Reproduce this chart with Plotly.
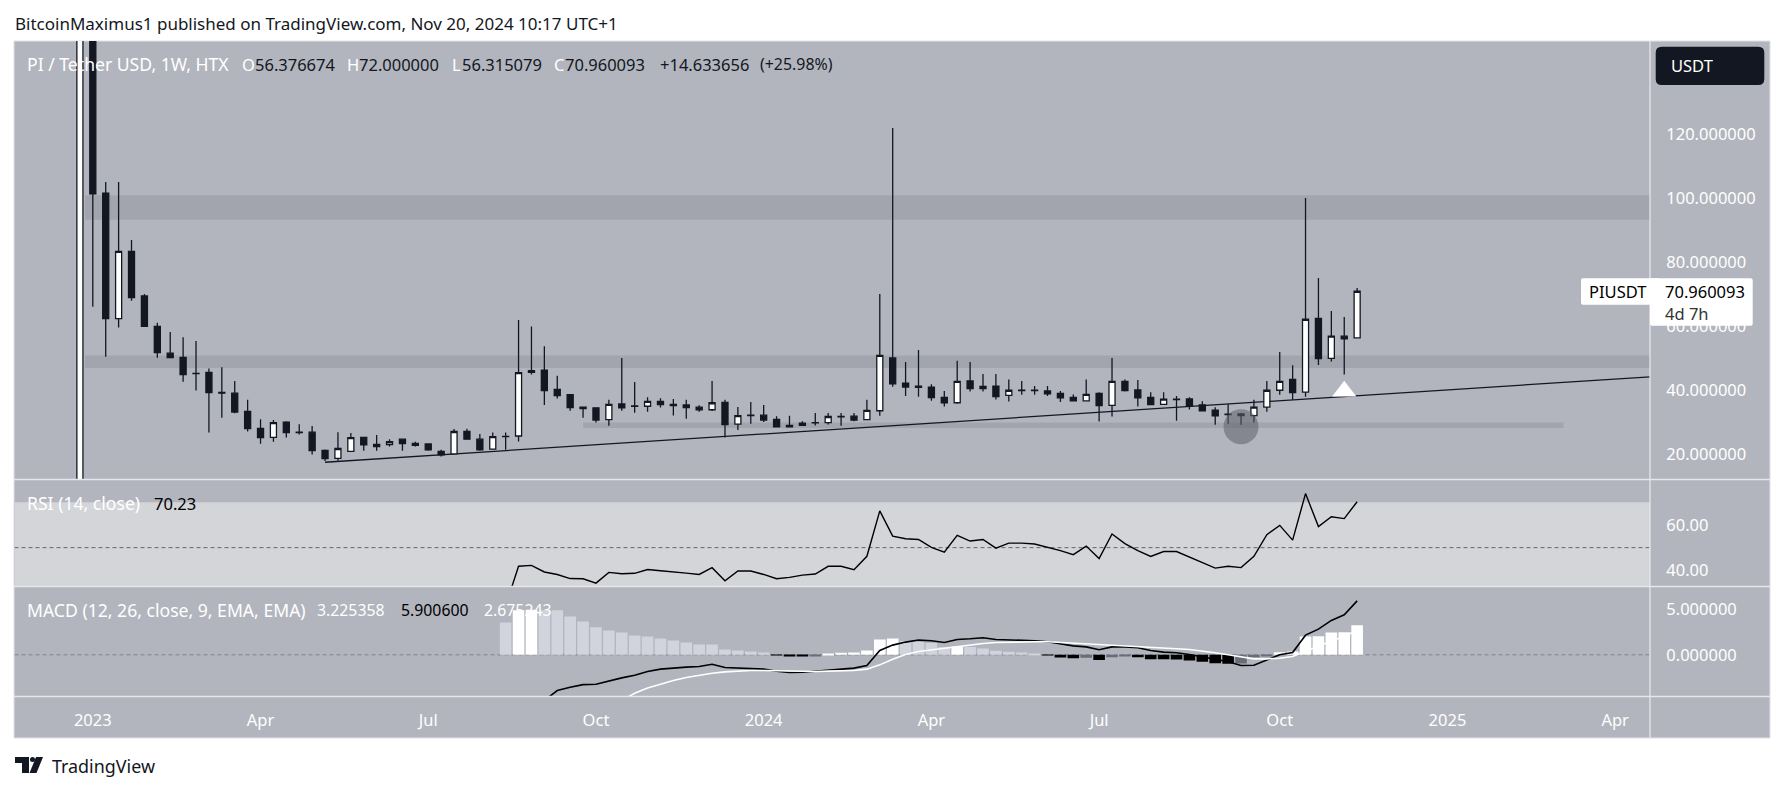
import pandas as pd
import plotly.graph_objects as go

# Weekly PI/USDT candles, first bar is the listing week
opens = [0, 170, 101.6, 62.4, 83.4, 69.5, 60.0, 51.6, 50.3, 45.3,
         45.6, 39.3, 39.1, 33.4, 28.1, 25.3, 30.0, 26.9, 26.9, 21.2,
         18.7, 20.9, 25.3, 23.1, 23.0, 24.7, 23.4, 23.2, 20.9, 20.1,
         27.1, 24.7, 21.6, 25.6, 25.7, 45.6, 46.3, 40.3, 38.6, 34.7,
         34.5, 30.8, 35.7, 35.1, 35.0, 36.5, 35.6, 35.4, 34.7, 33.9,
         36.2, 29.4, 32.2, 32.2, 30.9, 29.0, 29.0, 29.9, 29.9, 31.8,
         31.9, 30.8, 33.6, 50.1, 42.2, 41.3, 41.0, 37.8, 36.1, 42.9,
         40.5, 41.3, 38.4, 40.0, 40.0, 39.8, 39.0, 37.8, 36.7, 39.0,
         35.3, 42.8, 40.1, 37.8, 35.6, 37.2, 37.3, 35.4, 33.8, 32.5,
         32.6, 32.1, 34.7, 40.0, 43.4, 39.4, 62.5, 50.0, 56.9, 56.376674]
closes = [300, 101.4, 62.4, 83.4, 69.0, 60.0, 51.8, 50.2, 44.9, 45.2,
          39.3, 39.1, 33.2, 28.0, 25.2, 29.9, 26.8, 26.8, 21.1, 18.6,
          21.8, 25.2, 22.9, 22.4, 23.9, 23.3, 22.8, 21.4, 19.8, 27.1,
          24.7, 21.4, 25.5, 25.5, 45.5, 46.1, 39.9, 38.3, 34.6, 34.3,
          30.7, 35.6, 34.5, 35.0, 36.5, 35.5, 35.2, 34.6, 33.9, 36.1,
          29.3, 32.1, 32.1, 30.7, 28.6, 28.6, 29.7, 29.8, 31.8, 31.7,
          30.7, 33.7, 50.9, 42.0, 41.0, 40.9, 37.7, 36.1, 42.8, 40.5,
          41.2, 38.0, 40.0, 39.9, 39.9, 38.9, 37.6, 36.7, 38.7, 35.2,
          42.8, 39.9, 37.6, 35.5, 37.2, 37.1, 35.1, 33.6, 32.0, 32.4,
          32.1, 34.7, 40.0, 42.8, 39.3, 62.2, 49.9, 56.9, 56.1, 70.960093]
highs = [300, 170, 105.1, 105.1, 87.0, 70.1, 61.1, 58.2, 56.6, 55.4,
         46.8, 47.2, 42.9, 37.0, 30.9, 30.7, 30.3, 29.4, 28.8, 21.5,
         26.9, 26.6, 25.5, 26.0, 24.7, 24.7, 23.9, 23.4, 21.4, 27.9,
         28.0, 26.3, 26.8, 26.8, 62.0, 59.9, 53.8, 44.5, 38.8, 34.9,
         34.5, 37.0, 50.1, 42.6, 37.8, 37.5, 37.3, 37.0, 35.3, 42.9,
         37.0, 34.8, 36.3, 35.4, 31.9, 32.0, 30.3, 32.9, 32.9, 32.9,
         32.9, 37.0, 70.1, 122.0, 48.8, 52.6, 41.9, 39.8, 49.2, 48.8,
         45.1, 45.1, 43.4, 42.9, 41.3, 41.3, 39.8, 38.7, 43.4, 39.4,
         50.1, 43.4, 43.2, 39.4, 39.4, 38.2, 37.8, 36.6, 34.7, 35.6,
         32.9, 37.0, 42.9, 52.0, 47.8, 100.1, 75.1, 64.8, 62.9, 72.0]
lows = [0, 66.1, 50.5, 59.6, 68.0, 60.0, 50.2, 50.2, 42.7, 39.9,
        26.8, 31.4, 32.8, 27.1, 23.3, 23.9, 25.2, 26.2, 19.9, 17.9,
        18.0, 20.9, 21.1, 21.1, 22.4, 21.1, 22.4, 21.1, 19.3, 19.8,
        24.5, 21.1, 21.4, 21.4, 24.0, 44.9, 35.4, 37.4, 33.6, 31.4,
        29.9, 28.9, 33.6, 33.0, 33.3, 34.6, 32.1, 31.1, 33.3, 33.5,
        25.2, 27.6, 29.5, 30.1, 28.5, 28.5, 28.8, 29.0, 29.3, 28.9,
        30.3, 30.7, 32.0, 41.1, 38.2, 38.0, 36.7, 34.9, 35.8, 39.6,
        39.6, 37.1, 36.5, 38.6, 38.6, 38.2, 36.3, 36.5, 36.5, 30.2,
        31.8, 39.6, 34.9, 35.4, 35.4, 30.5, 34.0, 33.5, 29.2, 29.5,
        29.2, 29.9, 33.3, 38.6, 37.0, 38.0, 47.9, 49.0, 44.9, 56.315079]

# RSI(14) and MACD(12, 26, 9) start later than the candles
rsi_first_week = 33          # position in the candle list
rsi_values = [24.4, 41.8, 42.2, 39.3, 38.2, 36.4, 36.3, 34.4, 39.1, 38.5,
              38.7, 40.4, 39.8, 39.4, 38.8, 38.2, 41.2, 35.4, 39.7, 39.7,
              38.2, 36.3, 36.9, 37.9, 38.4, 41.8, 41.8, 40.3, 46.2, 66.2,
              55.1, 53.9, 53.6, 50.1, 48.0, 55.4, 52.9, 53.6, 49.8, 52.0,
              52.0, 51.6, 50.2, 48.7, 46.9, 50.7, 45.2, 56.0, 51.8, 48.7,
              46.1, 48.3, 48.3, 45.9, 43.5, 41.0, 41.8, 41.2, 46.2, 55.7,
              59.8, 53.3, 73.8, 59.3, 63.6, 62.8, 70.23]

hist_first_week = 33
hist_values = [3.54, 4.86, 4.93, 4.86, 4.86, 4.2, 3.65, 3.0, 2.67, 2.45,
               2.12, 2.01, 1.79, 1.57, 1.35, 1.13, 1.13, 0.58, 0.47, 0.36,
               0.25, -0.04, -0.1, -0.15, -0.1, 0.1, 0.22, 0.25, 0.47, 1.68,
               1.79, 1.5, 1.43, 1.28, 0.84, 0.91, 0.84, 0.7, 0.44, 0.33,
               0.25, 0.15, -0.02, -0.29, -0.37, -0.33, -0.58, -0.26, -0.11, -0.26,
               -0.48, -0.48, -0.51, -0.62, -0.77, -0.91, -0.99, -0.95, -0.26, -0.15,
               0.29, 0.36, 2.0, 2.02, 2.44, 2.46, 3.225358]

macd_first_week = 36
macd_values = [-5.0, -3.91, -3.55, -3.26, -3.22, -2.85, -2.52, -2.23, -1.83, -1.57,
               -1.43, -1.35, -1.28, -1.03, -1.39, -1.46, -1.46, -1.57, -1.79, -1.94,
               -1.9, -1.79, -1.61, -1.54, -1.46, -1.17, 0.47, 1.06, 1.39, 1.61,
               1.53, 1.35, 1.68, 1.75, 1.86, 1.68, 1.64, 1.61, 1.53, 1.42,
               1.2, 0.98, 0.87, 0.55, 0.87, 0.87, 0.77, 0.47, 0.29, 0.22,
               0.04, -0.18, -0.48, -0.77, -1.17, -1.14, -0.55, 0.0, 0.25, 2.15,
               2.81, 3.76, 4.38, 5.9006]

signal_first_week = 42
signal_values = [-5.0, -4.2, -3.62, -3.18, -2.82, -2.49, -2.23, -2.01, -1.87, -1.76,
                 -1.72, -1.72, -1.76, -1.79, -1.83, -1.83, -1.79, -1.76, -1.72, -1.57,
                 -1.1, -0.48, 0.03, 0.36, 0.55, 0.73, 0.91, 1.06, 1.24, 1.35,
                 1.39, 1.42, 1.42, 1.42, 1.35, 1.28, 1.2, 1.09, 1.06, 1.02,
                 0.95, 0.84, 0.77, 0.66, 0.58, 0.44, 0.22, 0.0, -0.26, -0.44,
                 -0.44, -0.37, -0.18, 0.4, 1.0, 1.5, 2.0, 2.675243]

price_ticks = [20, 40, 60, 80, 100, 120]
rsi_ticks = [40, 60]
macd_ticks = [0, 5]
date_ticks = ["2023-01-02", "2023-04-03", "2023-07-03", "2023-10-02", "2024-01-01",
              "2024-04-01", "2024-07-01", "2024-10-07", "2025-01-06", "2025-04-07"]
date_labels = ["2023", "Apr", "Jul", "Oct", "2024", "Apr", "Jul", "Oct", "2025", "Apr"]

WIDTH, HEIGHT = 1785, 791
FRAME = "#b2b5be"
DARK = "#131722"
TEXT = "#ffffff"
FONT = "Noto Sans"
SIZE = 16.5
LABEL = 17.6


def fx(px):
    return px / WIDTH


def fy(px):
    return 1 - px / HEIGHT


weeks = pd.date_range("2022-12-26", periods=len(opens), freq="W-MON")
week = pd.Timedelta(weeks=1)
zero_week = pd.Timestamp("2023-01-02")
x_range = [zero_week - 6.07 * week, zero_week + 120.7 * week]


def slab(first, count):
    return weeks[first:first + count]


def rounded(x0, y0, x1, y1, r=4):
    # Closed box path in paper fractions, measured in page pixels
    pts = [
        f"M{fx(x0 + r)},{fy(y0)}", f"L{fx(x1 - r)},{fy(y0)}",
        f"Q{fx(x1)},{fy(y0)} {fx(x1)},{fy(y0 + r)}", f"L{fx(x1)},{fy(y1 - r)}",
        f"Q{fx(x1)},{fy(y1)} {fx(x1 - r)},{fy(y1)}", f"L{fx(x0 + r)},{fy(y1)}",
        f"Q{fx(x0)},{fy(y1)} {fx(x0)},{fy(y1 - r)}", f"L{fx(x0)},{fy(y0 + r)}",
        f"Q{fx(x0)},{fy(y0)} {fx(x0 + r)},{fy(y0)}", "Z",
    ]
    return " ".join(pts)


fig = go.Figure()

# Support marker behind the candles
fig.add_trace(go.Scatter(
    x=[weeks[90]], y=[28.6], mode="markers", xaxis="x", yaxis="y",
    marker=dict(size=35, color="rgba(95,97,105,0.55)", line=dict(width=0)),
    hoverinfo="skip", showlegend=False))

fig.add_trace(go.Candlestick(
    x=weeks, open=opens, high=highs, low=lows, close=closes,
    xaxis="x", yaxis="y", whiskerwidth=0, showlegend=False,
    increasing=dict(fillcolor="#ffffff", line=dict(color=DARK, width=1.3)),
    decreasing=dict(fillcolor=DARK, line=dict(color=DARK, width=1.3))))

# Breakout marker above the trend line
fig.add_trace(go.Scatter(
    x=[weeks[98]], y=[39.7], mode="markers", xaxis="x", yaxis="y",
    marker=dict(symbol="triangle-up", size=21, color="#ffffff", line=dict(width=0)),
    hoverinfo="skip", showlegend=False))

fig.add_trace(go.Scatter(
    x=slab(rsi_first_week, len(rsi_values)), y=rsi_values, mode="lines",
    xaxis="x2", yaxis="y2", line=dict(color="#000000", width=1.4),
    hoverinfo="skip", showlegend=False))

# Histogram colours follow the usual rising/falling MACD convention
hist_colors = []
for i, v in enumerate(hist_values):
    rising = i > 0 and v > hist_values[i - 1]
    if v >= 0:
        hist_colors.append("#ffffff" if rising else "#d1d4dc")
    else:
        hist_colors.append("#6a6d78" if rising else "#000000")

fig.add_trace(go.Bar(
    x=slab(hist_first_week, len(hist_values)), y=hist_values,
    marker=dict(color=hist_colors, line=dict(width=0)),
    xaxis="x3", yaxis="y3", hoverinfo="skip", showlegend=False))
fig.add_trace(go.Scatter(
    x=slab(macd_first_week, len(macd_values)), y=macd_values, mode="lines",
    xaxis="x3", yaxis="y3", line=dict(color="#000000", width=1.6),
    hoverinfo="skip", showlegend=False))
fig.add_trace(go.Scatter(
    x=slab(signal_first_week, len(signal_values)), y=signal_values, mode="lines",
    xaxis="x3", yaxis="y3", line=dict(color="#ffffff", width=1.6),
    hoverinfo="skip", showlegend=False))

shapes = [
    # Chart frame
    dict(type="rect", xref="paper", yref="paper", x0=fx(14), x1=fx(1770), y0=fy(41), y1=fy(738),
         fillcolor=FRAME, line=dict(color="#dfe1e6", width=1), layer="below"),
    # Price zones
    dict(type="rect", xref="x", yref="y", x0=zero_week - 0.6 * week, x1=x_range[1], y0=93.3, y1=101.0,
         fillcolor="#a2a5ae", line=dict(width=0), layer="below"),
    dict(type="rect", xref="x", yref="y", x0=zero_week - 0.6 * week, x1=x_range[1], y0=47.0, y1=50.9,
         fillcolor="#a2a5ae", line=dict(width=0), layer="below"),
    dict(type="rect", xref="x", yref="y", x0=zero_week + 38 * week, x1=zero_week + 114 * week, y0=28.2, y1=29.9,
         fillcolor="#a2a5ae", line=dict(width=0), layer="below"),
    # Ascending trend line
    dict(type="line", xref="x", yref="y", x0=zero_week + 18 * week, x1=x_range[1], y0=17.5, y1=44.2,
         line=dict(color=DARK, width=1.3), layer="below"),
    # RSI band and midline
    dict(type="rect", xref="x2", yref="y2", x0=x_range[0], x1=x_range[1], y0=30, y1=70,
         fillcolor="#d3d5d9", line=dict(width=0), layer="below"),
    dict(type="line", xref="x2", yref="y2", x0=x_range[0], x1=x_range[1], y0=50, y1=50,
         line=dict(color="#62656e", width=1, dash="4px,3px"), layer="below"),
    # MACD zero line
    dict(type="line", xref="x3", yref="y3", x0=x_range[0], x1=x_range[1], y0=0, y1=0,
         line=dict(color="#7f828b", width=1, dash="4px,3px"), layer="below"),
    # Pane separators
    dict(type="line", xref="paper", yref="paper", x0=fx(14), x1=fx(1770), y0=fy(479.5), y1=fy(479.5),
         line=dict(color="#e6e7eb", width=1.3)),
    dict(type="line", xref="paper", yref="paper", x0=fx(14), x1=fx(1770), y0=fy(586.5), y1=fy(586.5),
         line=dict(color="#e6e7eb", width=1.3)),
    dict(type="line", xref="paper", yref="paper", x0=fx(14), x1=fx(1770), y0=fy(696.5), y1=fy(696.5),
         line=dict(color="#e6e7eb", width=1.3)),
    dict(type="line", xref="paper", yref="paper", x0=fx(1650), x1=fx(1650), y0=fy(41), y1=fy(738),
         line=dict(color="#e6e7eb", width=1.3)),
    # Currency button and last-price tag
    dict(type="path", xref="paper", yref="paper", path=rounded(1655.7, 46.7, 1764.3, 85, 6),
         fillcolor=DARK, line=dict(width=0)),
    dict(type="path", xref="paper", yref="paper", path=rounded(1581, 278.3, 1660, 304.7, 2),
         fillcolor="#ffffff", line=dict(width=0)),
    dict(type="path", xref="paper", yref="paper", path=rounded(1650, 278.3, 1752.7, 325.7, 2),
         fillcolor="#ffffff", line=dict(width=0)),
    # Publisher logo
    dict(type="path", xref="paper", yref="paper",
         path=(f"M{fx(15)},{fy(757)} L{fx(29)},{fy(757)} L{fx(29)},{fy(773)} L{fx(22)},{fy(773)} "
               f"L{fx(22)},{fy(763)} L{fx(15)},{fy(763)} Z"),
         fillcolor=DARK, line=dict(width=0)),
    dict(type="circle", xref="paper", yref="paper", x0=fx(30), x1=fx(35), y0=fy(757), y1=fy(762),
         fillcolor=DARK, line=dict(width=0)),
    dict(type="path", xref="paper", yref="paper",
         path=(f"M{fx(36)},{fy(757)} L{fx(43)},{fy(757)} L{fx(36.5)},{fy(773)} L{fx(29.5)},{fy(773)} Z"),
         fillcolor=DARK, line=dict(width=0)),
]

texts = [
    (14, 23, "BitcoinMaximus1 published on TradingView.com, Nov 20, 2024 10:17 UTC+1", "#131722", 17.0),
    (26, 64, "PI / Tether USD, 1W, HTX", TEXT, LABEL),
    (241, 64, "O", TEXT, SIZE), (254, 64, "56.376674", DARK, SIZE),
    (346, 64, "H", TEXT, SIZE), (358, 64, "72.000000", DARK, SIZE),
    (451, 64, "L", TEXT, SIZE), (461, 64, "56.315079", DARK, SIZE),
    (553, 64, "C", TEXT, SIZE), (564, 64, "70.960093", DARK, SIZE),
    (659, 64, "+14.633656", DARK, SIZE), (759, 64, "(+25.98%)", DARK, SIZE - 0.6),
    (26, 503, "RSI (14, close)", TEXT, LABEL), (153, 503, "70.23", "#000000", SIZE),
    (26, 610, "MACD (12, 26, close, 9, EMA, EMA)", TEXT, LABEL),
    (316, 610, "3.225358", TEXT, 15.8), (400, 610, "5.900600", "#000000", 15.8),
    (483, 610, "2.675243", TEXT, 15.8),
    (1670, 66, "USDT", "#ffffff", SIZE),
    (1587.7, 291.5, "PIUSDT", "#000000", SIZE), (1664, 291.5, "70.960093", "#000000", SIZE),
    (1664, 313, "4d 7h", "#333333", SIZE),
    (51, 766, "TradingView", "#131722", 17.9),
]
annotations = [
    dict(xref="paper", yref="paper", x=fx(x), y=fy(y), text=t, showarrow=False,
         xanchor="left", yanchor="middle", borderpad=0,
         font=dict(family=FONT, size=s, color=c))
    for x, y, t, c, s in texts
]

tick_font = dict(family=FONT, size=SIZE, color=TEXT)
x_common = dict(range=x_range, type="date", showgrid=False, zeroline=False, showline=False)
y_common = dict(side="right", showgrid=False, zeroline=False, showline=False,
                ticks="outside", ticklen=12, tickcolor="rgba(0,0,0,0)", tickfont=tick_font)
pane_left, pane_right = fx(14.5), fx(1650)

fig.update_layout(
    width=WIDTH, height=HEIGHT, autosize=False,
    margin=dict(l=0, r=0, t=0, b=0),
    paper_bgcolor="#ffffff", plot_bgcolor="rgba(0,0,0,0)",
    hovermode=False, dragmode=False, showlegend=False, bargap=0.1, boxgap=0.33,
    shapes=shapes, annotations=annotations,
    xaxis=dict(domain=[pane_left, pane_right], anchor="y", showticklabels=False,
               rangeslider=dict(visible=False), **x_common),
    xaxis2=dict(domain=[pane_left, pane_right], anchor="y2", matches="x", showticklabels=False, **x_common),
    xaxis3=dict(domain=[pane_left, pane_right], anchor="y3", matches="x",
                tickvals=date_ticks, ticktext=date_labels, tickfont=tick_font,
                ticks="outside", ticklen=9, tickcolor="rgba(0,0,0,0)", **x_common),
    yaxis=dict(domain=[fy(479.5), fy(41)], anchor="x", range=[12.1, 149.2],
               tickvals=price_ticks, tickformat=".6f", **y_common),
    yaxis2=dict(domain=[fy(586.5), fy(479.5)], anchor="x2", range=[32.9, 80],
                tickvals=rsi_ticks, tickformat=".2f", **y_common),
    yaxis3=dict(domain=[fy(696.5), fy(586.5)], anchor="x3", range=[-4.56, 7.47],
                tickvals=macd_ticks, tickformat=".6f", **y_common),
)

fig.write_html("out.html", config=dict(displayModeBar=False))
